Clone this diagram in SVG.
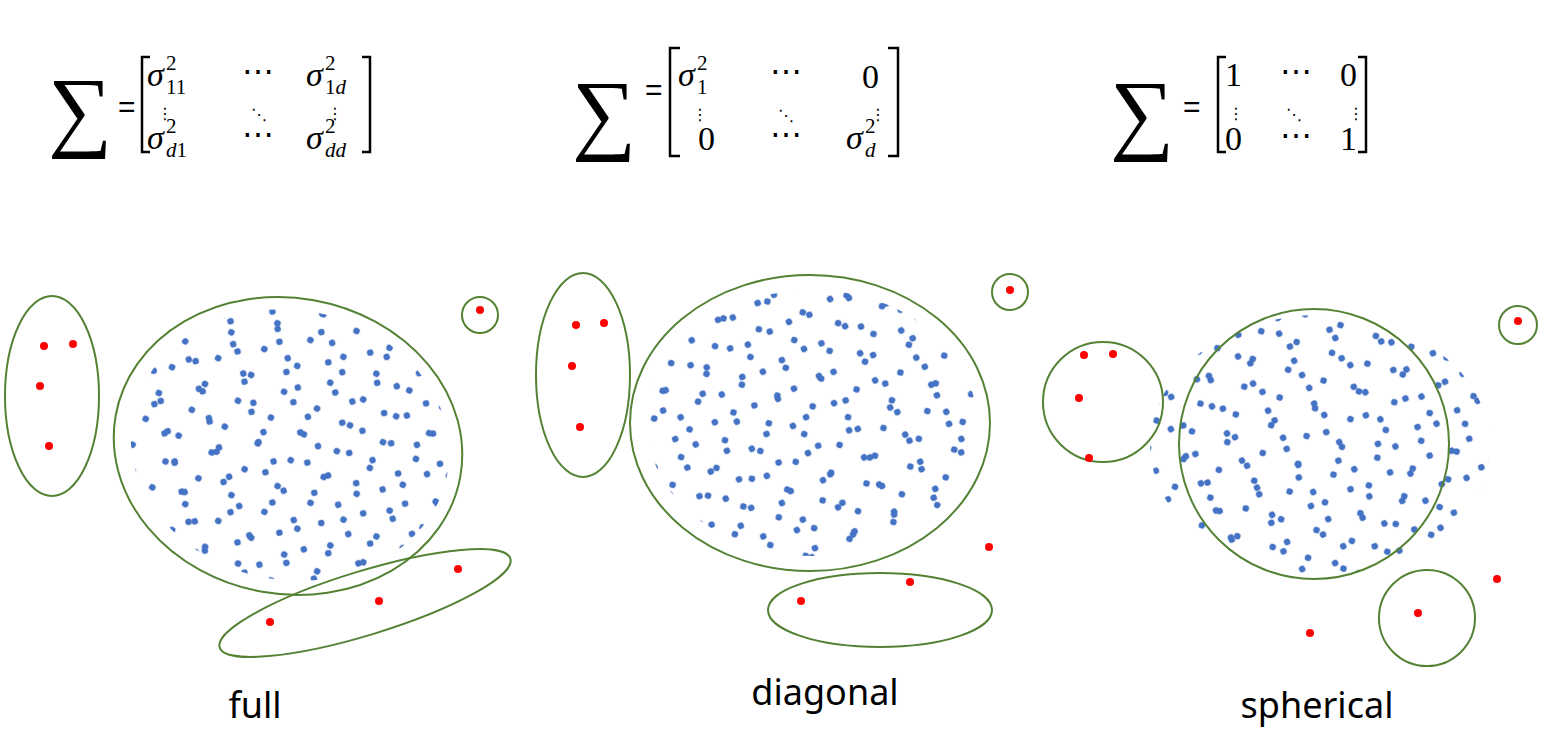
<svg xmlns="http://www.w3.org/2000/svg" width="1546" height="738" viewBox="0 0 1546 738">
<style>
.m{font-family:"Liberation Serif",serif;font-size:34px;fill:#000}
.i{font-style:italic}
.s{font-size:21px}
.d{font-family:"DejaVu Sans",sans-serif;font-size:16px}
.h{font-family:"Liberation Serif",serif;font-size:32px}
.sig{font-family:"Liberation Serif",serif;font-size:90px}
.eq{font-family:"Liberation Sans",sans-serif;font-size:30px}
.br{fill:none;stroke:#000;stroke-width:2.5}
.lab{font-family:"Noto Sans","Liberation Sans",sans-serif;font-size:36px;text-anchor:middle}
.g{fill:none;stroke:#548235;stroke-width:2}
.r{fill:#ff0000}
</style>
<defs>
<pattern id="p1" width="37" height="29" patternUnits="userSpaceOnUse" patternTransform="rotate(17)"><circle cx="8" cy="6" r="3.3" fill="#4472C4"/></pattern>
<pattern id="p2" width="43" height="31" patternUnits="userSpaceOnUse" patternTransform="rotate(-23)"><circle cx="20" cy="17" r="3.3" fill="#4472C4"/></pattern>
<pattern id="p3" width="31" height="47" patternUnits="userSpaceOnUse" patternTransform="rotate(61)"><circle cx="13" cy="30" r="3.3" fill="#4472C4"/></pattern>
</defs>
<g id="formulas">
<g class="m">
<text x="48" y="140" class="sig">∑</text><text x="118" y="117" class="eq">=</text>
<path class="br" d="M150,57 H142 V152 H150 M362,57 H370 V152 H362"/>
<text x="147" y="86" class="i">σ</text><text x="166" y="70" class="s">2</text><text x="166" y="94" class="s">11</text>
<text x="242" y="82" class="h">⋯</text>
<text x="306" y="86" class="i">σ</text><text x="325" y="70" class="s">2</text><text x="325" y="94" class="s">1<tspan class="i">d</tspan></text>
<text x="157" y="119" class="d">⋮</text><text x="251" y="120" class="d">⋱</text><text x="327" y="119" class="d">⋮</text>
<text x="147" y="149" class="i">σ</text><text x="166" y="133" class="s">2</text><text x="166" y="157" class="s"><tspan class="i">d</tspan>1</text>
<text x="242" y="145" class="h">⋯</text>
<text x="306" y="149" class="i">σ</text><text x="325" y="133" class="s">2</text><text x="325" y="157" class="s i">dd</text>

<text x="572" y="143" class="sig">∑</text><text x="645" y="100" class="eq">=</text>
<path class="br" d="M680,48 H670 V156 H680 M888,48 H898 V156 H888"/>
<text x="678" y="86" class="i">σ</text><text x="697" y="70" class="s">2</text><text x="697" y="94" class="s">1</text>
<text x="770" y="82" class="h">⋯</text><text x="862" y="88">0</text>
<text x="692" y="120" class="d">⋮</text><text x="778" y="121" class="d">⋱</text><text x="870" y="120" class="d">⋮</text>
<text x="698" y="150">0</text><text x="770" y="145" class="h">⋯</text>
<text x="846" y="149" class="i">σ</text><text x="865" y="133" class="s">2</text><text x="865" y="157" class="s i">d</text>

<text x="1110" y="143" class="sig">∑</text><text x="1183" y="117" class="eq">=</text>
<path class="br" d="M1226,57 H1218 V152 H1226 M1358,57 H1366 V152 H1358"/>
<text x="1225" y="86">1</text><text x="1280" y="82" class="h">⋯</text><text x="1340" y="86">0</text>
<text x="1228" y="119" class="d">⋮</text><text x="1286" y="120" class="d">⋱</text><text x="1348" y="119" class="d">⋮</text>
<text x="1225" y="150">0</text><text x="1280" y="146" class="h">⋯</text><text x="1340" y="150">1</text>
</g>
</g>
<g id="full">
<g transform="rotate(10 290 445)">
<ellipse cx="290" cy="445" rx="160" ry="135" fill="url(#p1)"/>
<ellipse cx="290" cy="445" rx="160" ry="135" fill="url(#p2)"/>
<ellipse cx="290" cy="445" rx="160" ry="135" fill="url(#p3)"/>
</g>
<ellipse class="g" cx="52" cy="396" rx="47" ry="100"/>
<ellipse class="g" cx="288" cy="446" rx="175" ry="148" transform="rotate(10 288 446)"/>
<circle class="g" cx="480" cy="315" r="18"/>
<ellipse class="g" cx="365" cy="603" rx="152" ry="32" transform="rotate(-17 365 603)"/>
<g class="r"><circle cx="44" cy="346" r="4"/><circle cx="73" cy="344" r="4"/><circle cx="40" cy="386" r="4"/><circle cx="49" cy="446" r="4"/><circle cx="480" cy="310" r="4"/><circle cx="458" cy="569" r="4"/><circle cx="379" cy="601" r="4"/><circle cx="270" cy="622" r="4"/></g>
<text class="lab" x="255" y="718">full</text>
</g>
<g id="diagonal">
<ellipse cx="812" cy="423" rx="165" ry="133" fill="url(#p1)"/>
<ellipse cx="812" cy="423" rx="165" ry="133" fill="url(#p2)"/>
<ellipse cx="812" cy="423" rx="165" ry="133" fill="url(#p3)"/>
<ellipse class="g" cx="583" cy="375" rx="47" ry="102"/>
<ellipse class="g" cx="810" cy="423" rx="180" ry="148"/>
<circle class="g" cx="1010" cy="292" r="18"/>
<ellipse class="g" cx="880" cy="610" rx="112" ry="37"/>
<g class="r"><circle cx="576" cy="325" r="4"/><circle cx="604" cy="323" r="4"/><circle cx="572" cy="366" r="4"/><circle cx="580" cy="427" r="4"/><circle cx="1010" cy="290" r="4"/><circle cx="989" cy="547" r="4"/><circle cx="910" cy="582" r="4"/><circle cx="801" cy="601" r="4"/></g>
<text class="lab" x="825" y="705">diagonal</text>
</g>
<g id="spherical">
<ellipse cx="1320" cy="445" rx="170" ry="130" fill="url(#p1)"/>
<ellipse cx="1320" cy="445" rx="170" ry="130" fill="url(#p2)"/>
<ellipse cx="1320" cy="445" rx="170" ry="130" fill="url(#p3)"/>
<circle class="g" cx="1103" cy="402" r="60"/>
<circle class="g" cx="1314" cy="444" r="135"/>
<circle class="g" cx="1518" cy="325" r="19"/>
<circle class="g" cx="1427" cy="618" r="48"/>
<g class="r"><circle cx="1084" cy="355" r="4"/><circle cx="1113" cy="354" r="4"/><circle cx="1079" cy="398" r="4"/><circle cx="1089" cy="458" r="4"/><circle cx="1518" cy="321" r="4"/><circle cx="1497" cy="579" r="4"/><circle cx="1418" cy="613" r="4"/><circle cx="1310" cy="633" r="4"/></g>
<text class="lab" x="1317" y="718">spherical</text>
</g>
</svg>
